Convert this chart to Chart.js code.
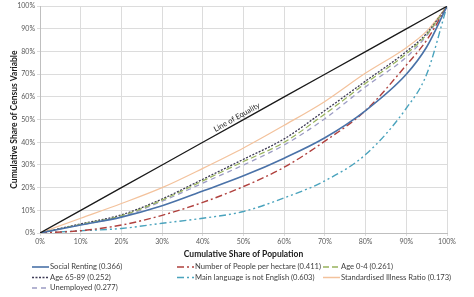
<!DOCTYPE html>
<html>
<head>
<meta charset="utf-8">
<script src="https://cdn.jsdelivr.net/npm/chart.js@4/dist/chart.umd.min.js"></script>
<style>
  html, body { margin: 0; padding: 0; background: #fff; }
  #wrap { width: 474px; height: 297px; position: relative; }
</style>
</head>
<body>
<div id="wrap"><canvas id="lorenz"></canvas></div>
<script>
// Cumulative share of population (x, %)
const popShare = [0, 10, 20, 30, 40, 50, 60, 70, 80, 90, 95, 100];

// Cumulative share of census variable (y, %) per variable
const equality          = [0, 10, 20, 30, 40, 50, 60, 70, 80, 90, 95, 100];
const socialRenting     = [0, 3.5, 7, 12, 18.5, 25.2, 33, 42, 54, 70, 82, 100];
const peoplePerHectare  = [0, 1, 3.5, 7.8, 13.5, 20.5, 29, 40.5, 54, 74, 85, 100];
const age0to4           = [0, 3.8, 7.6, 14.5, 23, 31.5, 40, 52.5, 66, 79, 87.5, 100];
const age65to89         = [0, 4, 8, 15, 23.7, 32.5, 41.5, 54, 67, 80, 88, 100];
const notEnglish        = [0, 1, 2, 4.3, 6.5, 9.5, 15.5, 23, 34.6, 55, 70, 100];
const illnessRatio      = [0, 6.5, 13, 20, 28.5, 37.5, 47.5, 58, 70.5, 81.7, 89, 100];
const unemployed        = [0, 3.6, 7.2, 14, 22, 30, 38.8, 50.4, 64.5, 77.5, 87, 100];

const xTicks = [0, 10, 20, 30, 40, 50, 60, 70, 80, 90, 100];
const yTicks = [0, 10, 20, 30, 40, 50, 60, 70, 80, 90, 100];

const FONT = 'Lato, "Liberation Sans", sans-serif';

function pts(ys) {
    return popShare.map((x, i) => ({ x: x, y: ys[i] }));
}

// legend slots: column, row
const series = [
    { label: 'Social Renting (0.366)', data: socialRenting, color: '#4a72a8', dash: [], width: 1.6, col: 0, row: 0 },
    { label: 'Number of People per hectare (0.411)', data: peoplePerHectare, color: '#b0413e', dash: [7, 3, 2, 3], width: 1.4, col: 1, row: 0 },
    { label: 'Age 0-4 (0.261)', data: age0to4, color: '#98b35c', dash: [6, 3], width: 1.2, col: 2, row: 0 },
    { label: 'Age 65-89 (0.252)', data: age65to89, color: '#3d3a55', dash: [2, 1.5], width: 1.3, col: 0, row: 1 },
    { label: 'Main language is not English (0.603)', data: notEnglish, color: '#4aa3bd', dash: [7, 3, 2, 3, 2, 3], width: 1.4, col: 1, row: 1 },
    { label: 'Standardised Illness Ratio (0.173)', data: illnessRatio, color: '#f3c29c', dash: [], width: 1.2, col: 2, row: 1 },
    { label: 'Unemployed (0.277)', data: unemployed, color: '#9c9cc4', dash: [5, 4], width: 1.3, col: 0, row: 2 }
];

const datasets = [{
    label: 'Line of Equality',
    data: pts(equality),
    borderColor: '#1a1a1a',
    borderWidth: 1.3,
    pointRadius: 0,
    tension: 0,
    isEquality: true
}].concat(series.map(s => ({
    label: s.label,
    data: pts(s.data),
    borderColor: s.color,
    borderDash: s.dash,
    borderWidth: s.width,
    pointRadius: 0,
    cubicInterpolationMode: 'monotone',
    legendCol: s.col,
    legendRow: s.row
})));

// custom legend laid out in three columns below the axis title
const legendPlugin = {
    id: 'gridLegend',
    afterDraw(chart) {
        const c = chart.ctx;
        const colX = [32, 177, 323];
        const rowY = [267, 277.5, 288];
        c.save();
        c.font = '7.6px ' + FONT;
        c.textBaseline = 'middle';
        chart.data.datasets.forEach(ds => {
            if (ds.isEquality) return;
            const x = colX[ds.legendCol], y = rowY[ds.legendRow];
            c.strokeStyle = ds.borderColor;
            c.lineWidth = Math.max(ds.borderWidth, 1.5);
            c.setLineDash(ds.borderDash || []);
            c.beginPath();
            c.moveTo(x, y);
            c.lineTo(x + 17, y);
            c.stroke();
            c.setLineDash([]);
            c.fillStyle = '#404040';
            c.fillText(ds.label, x + 18, y);
        });
        c.restore();
    }
};

// "Line of Equality" label rotated along the diagonal
const equalityLabel = {
    id: 'equalityLabel',
    afterDatasetsDraw(chart) {
        const xs = chart.scales.x, ys = chart.scales.y, c = chart.ctx;
        const px = xs.getPixelForValue(49), py = ys.getPixelForValue(49);
        const ang = Math.atan2(ys.getPixelForValue(100) - ys.getPixelForValue(0),
                               xs.getPixelForValue(100) - xs.getPixelForValue(0));
        c.save();
        c.translate(px, py);
        c.rotate(ang);
        c.font = '7.6px ' + FONT;
        c.fillStyle = '#262626';
        c.textAlign = 'center';
        c.textBaseline = 'bottom';
        c.fillText('Line of Equality', 0, -1.5);
        c.restore();
    }
};

new Chart(document.getElementById('lorenz'), {
    type: 'line',
    data: { datasets: datasets },
    options: {
        responsive: true,
        maintainAspectRatio: false,
        animation: false,
        layout: { padding: { left: 9, right: 27, top: 3, bottom: 38 } },
        plugins: {
            legend: { display: false },
            tooltip: { enabled: false }
        },
        scales: {
            x: {
                type: 'linear',
                min: 0, max: 100,
                afterBuildTicks: axis => { axis.ticks = xTicks.map(v => ({ value: v })); },
                afterFit: axis => { axis.height = 26; },
                grid: { color: '#dcdcdc', tickLength: 3, drawTicks: true },
                border: { color: '#bfbfbf' },
                ticks: { color: '#595959', font: { family: FONT, size: 7 }, padding: 2, maxRotation: 0,
                         callback: v => v + '%' },
                title: { display: true, text: 'Cumulative Share of Population', color: '#1a1a1a',
                         font: { family: FONT, size: 8.5, weight: 'bold' }, padding: { top: 2, bottom: 0 } }
            },
            y: {
                type: 'linear',
                min: 0, max: 100,
                afterBuildTicks: axis => { axis.ticks = yTicks.map(v => ({ value: v })); },
                afterFit: axis => { axis.width = 31; },
                grid: { color: '#dcdcdc', tickLength: 3 },
                border: { color: '#bfbfbf' },
                ticks: { color: '#595959', font: { family: FONT, size: 7 }, padding: 2,
                         callback: v => v + '%' },
                title: { display: true, text: 'Cumulative Share of Census Variable', color: '#1a1a1a',
                         font: { family: FONT, size: 8.5, weight: 'bold' }, padding: { top: 0, bottom: 2 } }
            }
        }
    },
    plugins: [legendPlugin, equalityLabel]
});
</script>
</body>
</html>
